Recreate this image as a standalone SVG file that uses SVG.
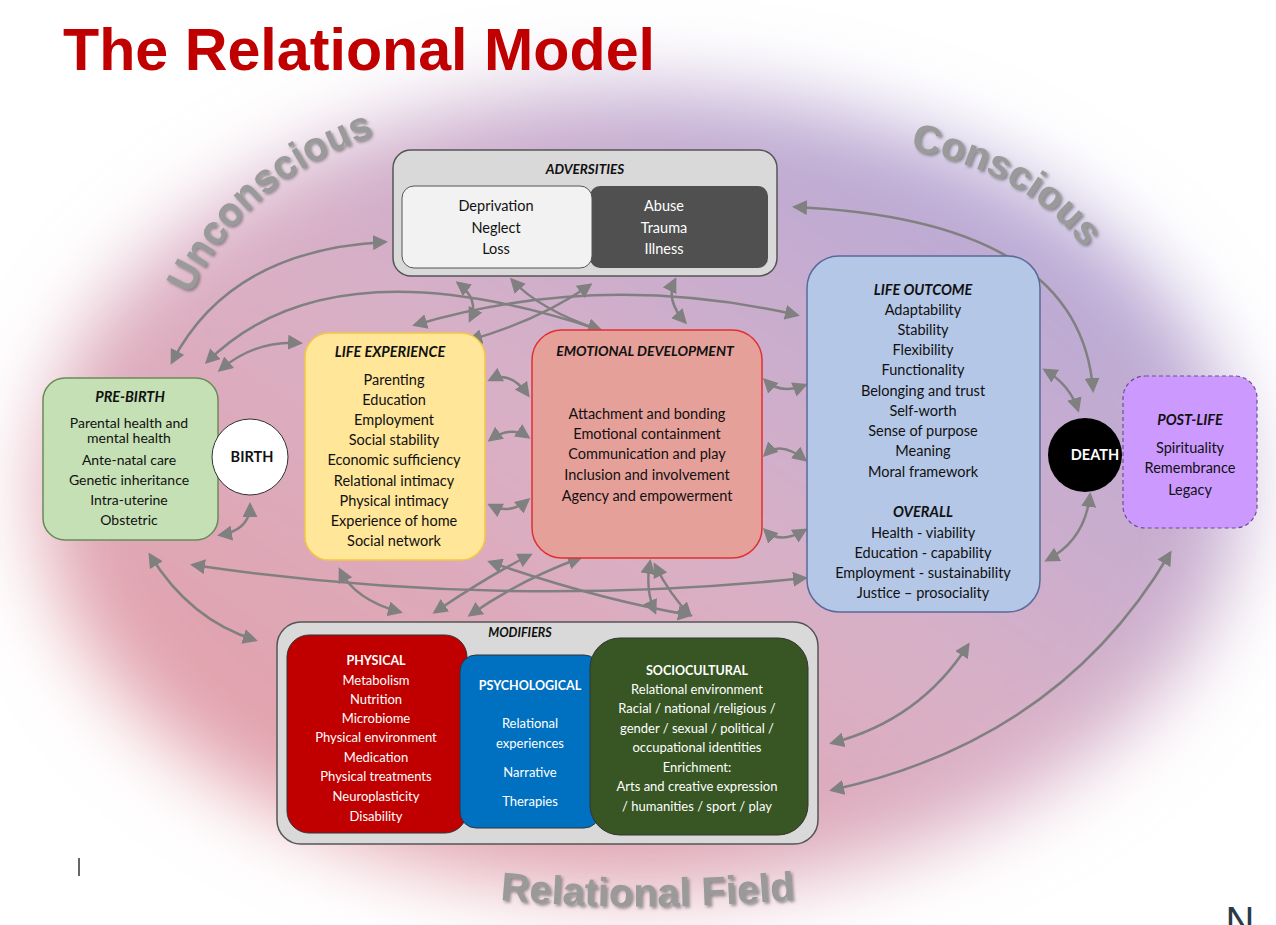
<svg xmlns="http://www.w3.org/2000/svg" width="1276" height="925" viewBox="0 0 1276 925">
<defs>
<linearGradient id="bg" x1="0" y1="1" x2="1" y2="0">
<stop offset="0" stop-color="#e79a9e"/>
<stop offset="0.5" stop-color="#d9b0c6"/>
<stop offset="1" stop-color="#a9a6dd"/>
</linearGradient>
<filter id="blur" x="-20%" y="-20%" width="140%" height="140%"><feGaussianBlur stdDeviation="40"/></filter>
<filter id="sh"><feDropShadow dx="2" dy="2" stdDeviation="1.5" flood-color="#555" flood-opacity="0.6"/></filter>
<marker id="ah" viewBox="0 0 10 10" refX="8" refY="5" markerWidth="6" markerHeight="6" orient="auto-start-reverse"><path d="M0,0 L10,5 L0,10 z" fill="#808080"/></marker>
<path id="pU" d="M190,295 Q250,165 410,125"/>
<path id="pC" d="M910,150 Q1040,175 1095,265"/>
<path id="pR" d="M500,900 Q660,915 840,895"/>
</defs>
<style>
text{font-family:Lato,"Liberation Sans",sans-serif;fill:#111;font-size:14.5px;text-anchor:middle}
.t{font-weight:bold;font-style:italic}
.w{fill:#fff}
.big{font-family:"Liberation Sans",sans-serif;font-weight:bold;font-size:40px;fill:#9a9a9a;text-anchor:start;filter:url(#sh)}
#conn path{fill:none;stroke:#808080;stroke-width:2.5;marker-start:url(#ah);marker-end:url(#ah)}
</style>
<rect width="1276" height="925" fill="#fff"/>
<ellipse cx="640" cy="490" rx="600" ry="400" fill="url(#bg)" filter="url(#blur)"/>
<text x="63" y="70" style="font-family:'Liberation Sans',sans-serif;font-weight:bold;font-size:60px;fill:#c00000;text-anchor:start" textLength="592" lengthAdjust="spacingAndGlyphs">The Relational Model</text>
<text class="big"><textPath href="#pU">Unconscious</textPath></text>
<text class="big"><textPath href="#pC">Conscious</textPath></text>
<text class="big"><textPath href="#pR">Relational Field</textPath></text>

<g id="conn">
<path d="M172,362 Q230,250 385,242"/>
<path d="M207,362 Q330,240 600,330"/>
<path d="M220,370 Q255,340 300,343"/>
<path d="M458,283 Q480,300 470,320"/>
<path d="M512,280 Q540,310 600,330"/>
<path d="M590,285 Q540,320 470,340"/>
<path d="M415,325 Q600,270 797,315"/>
<path d="M675,280 Q665,300 685,322"/>
<path d="M490,380 Q510,370 528,395"/>
<path d="M490,440 Q510,425 528,437"/>
<path d="M490,505 Q510,515 528,500"/>
<path d="M765,380 Q780,395 805,385"/>
<path d="M765,455 Q780,440 805,460"/>
<path d="M765,530 Q780,545 805,530"/>
<path d="M795,207 Q1080,220 1093,390"/>
<path d="M1045,370 Q1070,385 1078,410"/>
<path d="M1047,560 Q1085,540 1090,495"/>
<path d="M150,555 Q190,620 255,640"/>
<path d="M220,535 Q250,530 250,505"/>
<path d="M193,565 Q500,610 805,578"/>
<path d="M340,570 Q355,600 400,612"/>
<path d="M490,562 Q600,600 690,615"/>
<path d="M435,612 Q490,575 530,555"/>
<path d="M470,615 Q520,580 580,558"/>
<path d="M650,562 Q645,590 655,612"/>
<path d="M655,565 Q670,595 690,615"/>
<path d="M832,743 Q920,720 968,645"/>
<path d="M832,790 Q1060,740 1170,553"/>
</g>

<g id="adversities">
<rect x="393" y="150" width="384" height="126" rx="18" fill="#d9d9d9" stroke="#555" stroke-width="1.5"/>
<text class="t" x="585" y="174" style="font-size:13.5px">ADVERSITIES</text>
<rect x="590" y="186" width="178" height="82" rx="10" fill="#505050"/>
<rect x="402" y="186" width="190" height="82" rx="12" fill="#f2f2f2" stroke="#555"/>
<text x="496" y="211">Deprivation</text><text x="496" y="233">Neglect</text><text x="496" y="254">Loss</text>
<text class="w" x="664" y="211">Abuse</text><text class="w" x="664" y="233">Trauma</text><text class="w" x="664" y="254">Illness</text>
</g>

<g id="prebirth">
<rect x="43" y="378" width="175" height="162" rx="22" fill="#c5e0b4" stroke="#6a8a5a" stroke-width="1.5"/>
<text class="t" x="130" y="402">PRE-BIRTH</text>
<text x="129" y="428" style="font-size:14px">Parental health and</text><text x="129" y="443" style="font-size:14px">mental health</text>
<text x="129" y="465" style="font-size:14px">Ante-natal care</text><text x="129" y="485" style="font-size:14px">Genetic inheritance</text>
<text x="129" y="505" style="font-size:14px">Intra-uterine</text><text x="129" y="525" style="font-size:14px">Obstetric</text>
</g>
<g id="birth"><circle cx="250" cy="457" r="38" fill="#fff" stroke="#333"/><text x="252" y="462" style="font-weight:bold">BIRTH</text></g>

<g id="lifeexp">
<rect x="305" y="333" width="180" height="227" rx="24" fill="#ffe699" stroke="#f5c842" stroke-width="1.5"/>
<text class="t" x="390" y="357">LIFE EXPERIENCE</text>
<text x="394" y="385">Parenting</text><text x="394" y="405">Education</text><text x="394" y="425">Employment</text>
<text x="394" y="445">Social stability</text><text x="394" y="465">Economic sufficiency</text><text x="394" y="486">Relational intimacy</text>
<text x="394" y="506">Physical intimacy</text><text x="394" y="526">Experience of home</text><text x="394" y="546">Social network</text>
</g>

<g id="emotional">
<rect x="532" y="330" width="230" height="228" rx="30" fill="#e6a09a" stroke="#e03030" stroke-width="1.5"/>
<text class="t" x="645" y="356" style="font-size:14px">EMOTIONAL DEVELOPMENT</text>
<text x="647" y="419">Attachment and bonding</text><text x="647" y="439">Emotional containment</text>
<text x="647" y="459">Communication and play</text><text x="647" y="480">Inclusion and involvement</text>
<text x="647" y="501">Agency and empowerment</text>
</g>

<g id="lifeoutcome">
<rect x="807" y="256" width="233" height="356" rx="32" fill="#b4c7e7" stroke="#5a6a9a" stroke-width="1.5"/>
<text class="t" x="923" y="295">LIFE OUTCOME</text>
<text x="923" y="315">Adaptability</text><text x="923" y="335">Stability</text><text x="923" y="355">Flexibility</text>
<text x="923" y="375">Functionality</text><text x="923" y="396">Belonging and trust</text><text x="923" y="416">Self-worth</text>
<text x="923" y="436">Sense of purpose</text><text x="923" y="456">Meaning</text><text x="923" y="477">Moral framework</text>
<text class="t" x="923" y="517">OVERALL</text>
<text x="923" y="538">Health - viability</text><text x="923" y="558">Education - capability</text>
<text x="923" y="578">Employment - sustainability</text><text x="923" y="598">Justice – prosociality</text>
</g>

<g id="death"><circle cx="1085" cy="455" r="37" fill="#000"/><text class="w" x="1095" y="460" style="font-weight:bold">DEATH</text></g>

<g id="postlife">
<rect x="1123" y="376" width="134" height="152" rx="22" fill="#cc99ff" stroke="#6a5090" stroke-width="1.2" stroke-dasharray="4,3"/>
<text class="t" x="1190" y="425">POST-LIFE</text>
<text x="1190" y="453">Spirituality</text><text x="1190" y="473">Remembrance</text><text x="1190" y="495">Legacy</text>
</g>

<g id="modifiers">
<rect x="277" y="622" width="541" height="222" rx="24" fill="#d9d9d9" stroke="#555" stroke-width="1.5"/>
<text class="t" x="520" y="637" style="font-size:12.5px">MODIFIERS</text>
</g>
<g id="physical">
<rect x="287" y="635" width="180" height="198" rx="22" fill="#c00000" stroke="#333"/>
<text class="w" x="376" y="665" style="font-weight:bold;font-size:12.5px">PHYSICAL</text>
<text class="w" x="376" y="685" style="font-size:13px">Metabolism</text><text class="w" x="376" y="704" style="font-size:13px">Nutrition</text>
<text class="w" x="376" y="723" style="font-size:13px">Microbiome</text><text class="w" x="376" y="742" style="font-size:13px">Physical environment</text>
<text class="w" x="376" y="762" style="font-size:13px">Medication</text><text class="w" x="376" y="781" style="font-size:13px">Physical treatments</text>
<text class="w" x="376" y="801" style="font-size:13px">Neuroplasticity</text><text class="w" x="376" y="821" style="font-size:13px">Disability</text>
</g>
<g id="psychological">
<rect x="460" y="655" width="140" height="173" rx="16" fill="#0070c0" stroke="#333"/>
<text class="w" x="530" y="690" style="font-weight:bold;font-size:12.5px">PSYCHOLOGICAL</text>
<text class="w" x="530" y="728" style="font-size:13px">Relational</text><text class="w" x="530" y="748" style="font-size:13px">experiences</text>
<text class="w" x="530" y="777" style="font-size:13px">Narrative</text><text class="w" x="530" y="806" style="font-size:13px">Therapies</text>
</g>
<g id="sociocultural">
<rect x="590" y="638" width="218" height="197" rx="30" fill="#375623" stroke="#333"/>
<text class="w" x="697" y="675" style="font-weight:bold;font-size:12.5px">SOCIOCULTURAL</text>
<text class="w" x="697" y="694" style="font-size:13px">Relational environment</text>
<text class="w" x="697" y="713" style="font-size:13px">Racial / national /religious /</text>
<text class="w" x="697" y="733" style="font-size:13px">gender /  sexual / political /</text>
<text class="w" x="697" y="752" style="font-size:13px">occupational identities</text>
<text class="w" x="697" y="772" style="font-size:13px">Enrichment:</text>
<text class="w" x="697" y="791" style="font-size:13px">Arts and creative expression</text>
<text class="w" x="697" y="811" style="font-size:13px">/ humanities  / sport / play</text>
</g>
<line x1="79" y1="858" x2="79" y2="876" stroke="#333" stroke-width="1.5"/>
<text x="1240" y="935" style="font-family:'Liberation Sans',sans-serif;font-size:40px;fill:#2a3a4a">N</text>
</svg>
